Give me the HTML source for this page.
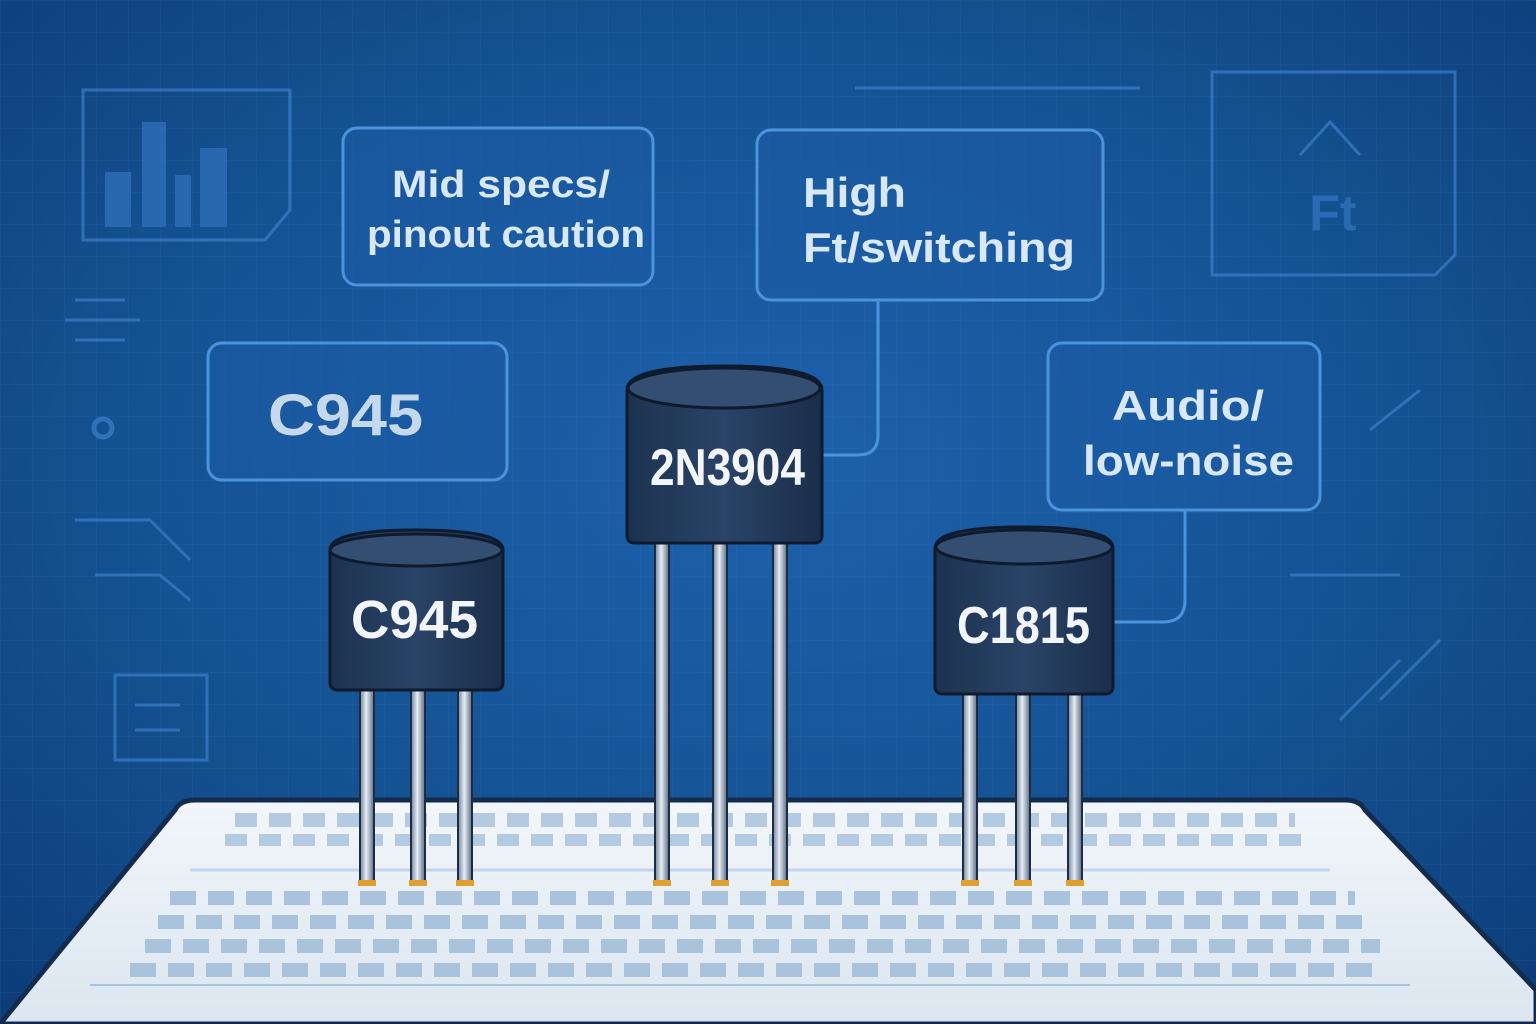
<!DOCTYPE html>
<html><head><meta charset="utf-8"><style>
html,body{margin:0;padding:0;width:1536px;height:1024px;overflow:hidden;background:#11498f}
svg{display:block}
text{font-family:"Liberation Sans","DejaVu Sans",sans-serif}
.n{font-family:"Liberation Sans Narrow","Liberation Sans",sans-serif}
</style></head><body>
<svg width="1536" height="1024" viewBox="0 0 1536 1024" xmlns="http://www.w3.org/2000/svg">
<defs>
<radialGradient id="bg" cx="0.5" cy="0.45" r="0.75">
<stop offset="0" stop-color="#1d62ad"/><stop offset="0.6" stop-color="#14508f"/><stop offset="1" stop-color="#0c3b78"/>
</radialGradient>
<pattern id="grid" width="32" height="32" patternUnits="userSpaceOnUse">
<path d="M32 0H0V32" fill="none" stroke="#3a7cc4" stroke-opacity="0.25" stroke-width="1"/>
</pattern>
<linearGradient id="body" x1="0" x2="1"><stop offset="0" stop-color="#1c3250"/><stop offset="0.5" stop-color="#2a4366"/><stop offset="1" stop-color="#1a2e4b"/></linearGradient>
<linearGradient id="leg" x1="0" x2="1"><stop offset="0" stop-color="#6f8299"/><stop offset="0.45" stop-color="#e6edf5"/><stop offset="1" stop-color="#5a6b80"/></linearGradient>
<linearGradient id="bb" x1="0" y1="0" x2="0" y2="1"><stop offset="0" stop-color="#f2f6fa"/><stop offset="1" stop-color="#dbe6f0"/></linearGradient>
</defs>
<rect width="1536" height="1024" fill="url(#bg)"/>
<rect width="1536" height="1024" fill="url(#grid)"/>
<g fill="none" stroke="#3d7fc8" stroke-width="3" opacity="0.7">
<path d="M83 90H290V210L265 240H83Z"/>
<path d="M1212 72H1455V255L1435 275H1212Z"/>
<path d="M1300 155L1330 122L1360 155"/>
<path d="M855 88H1140M1225 72H1455"/>
<path d="M75 300H125M65 320H140M75 340H125"/>
<path d="M115 675H207V760H115ZM135 705H180M135 730H180"/>
<path d="M75 520H150L190 560M95 575H160L190 600"/>
<path d="M1340 720L1400 660M1380 700L1440 640M1370 430L1420 390"/>
<path d="M1290 575H1400"/>
</g>
<circle cx="103" cy="428" r="9" fill="none" stroke="#3d7fc8" stroke-width="5" opacity="0.7"/>
<g fill="#2c6bb3" opacity="0.9">
<rect x="105" y="172" width="26" height="55"/><rect x="142" y="122" width="24" height="105"/><rect x="175" y="175" width="16" height="52"/><rect x="200" y="148" width="27" height="79"/>
</g>
<text x="1333" y="230" font-size="50" font-weight="bold" fill="#2c6bb3" text-anchor="middle">Ft</text>
<g fill="#1d5ba5" fill-opacity="0.6" stroke="#4b93dc" stroke-width="3">
<rect x="343" y="128" width="310" height="157" rx="14"/>
<rect x="757" y="130" width="346" height="170" rx="14"/>
<rect x="208" y="343" width="299" height="137" rx="14"/>
<rect x="1048" y="343" width="272" height="167" rx="14"/>
</g>
<g fill="none" stroke="#4b93dc" stroke-width="3">
<path d="M878 300V435Q878 455 858 455H822"/>
<path d="M1185 510V600Q1185 622 1163 622H1113"/>
</g>
<g fill="#d8e8f8" font-weight="bold">
<text x="392" y="197" font-size="38" textLength="218" lengthAdjust="spacingAndGlyphs">Mid specs/</text>
<text x="367" y="247" font-size="38" textLength="278" lengthAdjust="spacingAndGlyphs">pinout caution</text>
<text x="803" y="207" font-size="42" textLength="103" lengthAdjust="spacingAndGlyphs">High</text>
<text x="803" y="262" font-size="42" textLength="272" lengthAdjust="spacingAndGlyphs">Ft/switching</text>
<text x="268" y="435" font-size="58" fill="#c6d8ec" textLength="155" lengthAdjust="spacingAndGlyphs">C945</text>
<text x="1112" y="420" font-size="42" textLength="152" lengthAdjust="spacingAndGlyphs">Audio/</text>
<text x="1083" y="475" font-size="42" textLength="211" lengthAdjust="spacingAndGlyphs">low-noise</text>
</g>
<path d="M0 1024L175 810Q180 800 195 800H1345Q1360 800 1365 810L1536 990V1024Z" fill="url(#bb)" stroke="#132c4d" stroke-width="5"/>
<g>
<path d="M235 820h1060" stroke="#b3cae2" stroke-width="14" stroke-dasharray="22 12"/>
<path d="M225 840h1080" stroke="#b3cae2" stroke-width="12" stroke-dasharray="22 12"/>
<path d="M190 870h1140" stroke="#c3d5e8" stroke-width="3"/>
<path d="M170 898h1185" stroke="#a9c3dd" stroke-width="14" stroke-dasharray="26 12"/>
<path d="M158 922h1210" stroke="#a9c3dd" stroke-width="14" stroke-dasharray="26 12"/>
<path d="M145 946h1235" stroke="#a9c3dd" stroke-width="14" stroke-dasharray="26 12"/>
<path d="M130 970h1250" stroke="#a9c3dd" stroke-width="14" stroke-dasharray="26 12"/>
<path d="M90 985h1320" stroke="#a9c3dd" stroke-width="2"/>
</g>
<g>
<g fill="url(#leg)" stroke="#1b2c44" stroke-width="2">
<rect x="360" y="685" width="14" height="200"/><rect x="411" y="685" width="14" height="200"/><rect x="458" y="685" width="14" height="200"/>
</g>
<g fill="#e0a030"><rect x="358" y="880" width="18" height="6"/><rect x="409" y="880" width="18" height="6"/><rect x="456" y="880" width="18" height="6"/></g>
<path d="M330 550Q330 530 416 530Q503 530 503 550V682Q503 690 495 690H338Q330 690 330 682Z" fill="url(#body)" stroke="#0e1b2e" stroke-width="3"/>
<ellipse cx="416" cy="550" rx="86" ry="16" fill="#344e72" stroke="#0e1b2e" stroke-width="3"/>
<text class="n" x="351" y="638" font-size="54" font-weight="bold" fill="#f2f6fa" textLength="127" lengthAdjust="spacingAndGlyphs">C945</text>
</g>
<g>
<g fill="url(#leg)" stroke="#1b2c44" stroke-width="2">
<rect x="655" y="540" width="14" height="345"/><rect x="713" y="540" width="14" height="345"/><rect x="773" y="540" width="14" height="345"/>
</g>
<g fill="#e0a030"><rect x="653" y="880" width="18" height="6"/><rect x="711" y="880" width="18" height="6"/><rect x="771" y="880" width="18" height="6"/></g>
<path d="M627 390Q627 366 724 366Q822 366 822 390V535Q822 543 814 543H635Q627 543 627 535Z" fill="url(#body)" stroke="#0e1b2e" stroke-width="3"/>
<ellipse cx="724" cy="388" rx="96" ry="20" fill="#344e72" stroke="#0e1b2e" stroke-width="3"/>
<text class="n" x="650" y="485" font-size="52" font-weight="bold" fill="#f2f6fa" textLength="155" lengthAdjust="spacingAndGlyphs">2N3904</text>
</g>
<g>
<g fill="url(#leg)" stroke="#1b2c44" stroke-width="2">
<rect x="963" y="690" width="14" height="195"/><rect x="1016" y="690" width="14" height="195"/><rect x="1068" y="690" width="14" height="195"/>
</g>
<g fill="#e0a030"><rect x="961" y="880" width="18" height="6"/><rect x="1014" y="880" width="18" height="6"/><rect x="1066" y="880" width="18" height="6"/></g>
<path d="M935 548Q935 527 1024 527Q1113 527 1113 548V686Q1113 694 1105 694H943Q935 694 935 686Z" fill="url(#body)" stroke="#0e1b2e" stroke-width="3"/>
<ellipse cx="1024" cy="547" rx="88" ry="17" fill="#344e72" stroke="#0e1b2e" stroke-width="3"/>
<text class="n" x="957" y="643" font-size="52" font-weight="bold" fill="#f2f6fa" textLength="133" lengthAdjust="spacingAndGlyphs">C1815</text>
</g>
</svg>
</body></html>
